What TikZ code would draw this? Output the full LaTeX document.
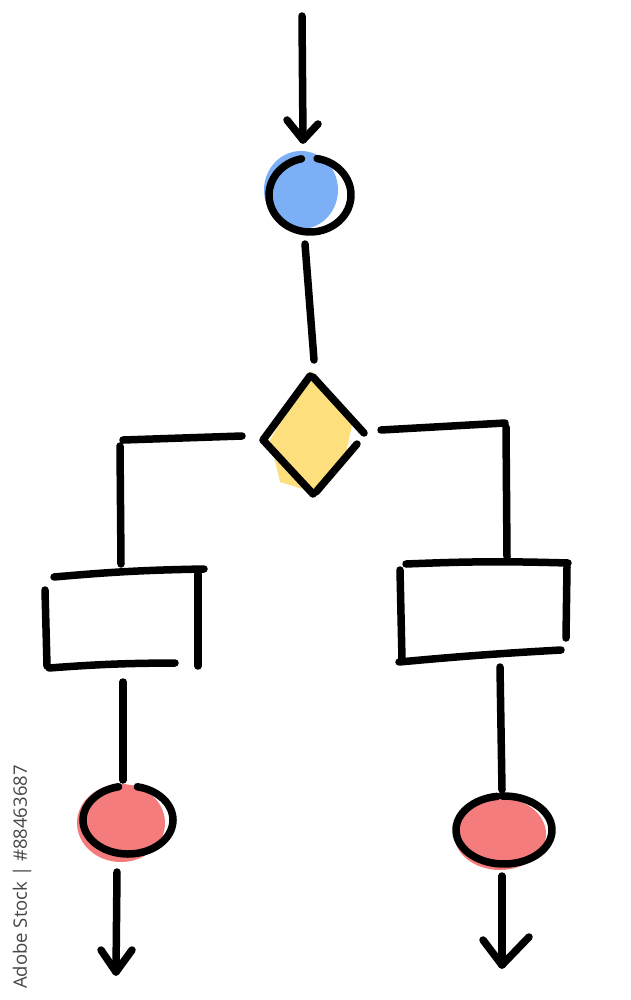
\documentclass[tikz,border=0pt]{standalone}
\usepackage{fontspec}
\usetikzlibrary{calc}
\newfontfamily\wmfont{Open Sans}
\definecolor{bluefill}{RGB}{125,175,246}
\definecolor{yellowfill}{RGB}{253,224,125}
\definecolor{redfill}{RGB}{244,124,124}
\definecolor{wmgray}{RGB}{70,70,70}
\tikzset{
  ink/.style={line width=7.5pt, line cap=round, line join=round, draw=black},
}
\begin{document}
\begin{tikzpicture}[x=1pt,y=-1pt]
\useasboundingbox (0,0) rectangle (631,1000);
\fill[white] (0,0) rectangle (631,1000);

% ---------- coordinates ----------
\coordinate (inStart) at (302,16);
\coordinate (inEnd)   at (303,140);
\coordinate (blueC)   at (310,195);
\coordinate (blueBot) at (305,244);
\coordinate (diaTop)  at (314,360);

\coordinate (dT) at (310,376);
\coordinate (dL) at (263,440);
\coordinate (dB) at (313,494);
\coordinate (dR) at (364,433);

\coordinate (lH1) at (242,436);
\coordinate (lH2) at (123,440);
\coordinate (lV2) at (121,564);

\coordinate (rH1) at (381,430);
\coordinate (rH2) at (505,423);
\coordinate (rV2) at (507,557);

\coordinate (lBoxOut) at (123,682);
\coordinate (lRedIn)  at (123,780);
\coordinate (lRedC)   at (128,820);
\coordinate (lArrS)   at (117,872);
\coordinate (lArrE)   at (116,972);

\coordinate (rBoxOut) at (500,667);
\coordinate (rRedIn)  at (502,790);
\coordinate (rRedC)   at (504,830);
\coordinate (rArrS)   at (502,876);
\coordinate (rArrE)   at (502,965);

% ---------- colour fills ----------
\fill[bluefill] (301,190) ellipse[x radius=37, y radius=39];
\fill[yellowfill] (312,371) -- (352,425) -- (345,458) -- (313,492) -- (280,482) -- (270,440) -- cycle;
\fill[redfill] (121,823) ellipse[x radius=44, y radius=39];
\fill[redfill] (500,834) ellipse[x radius=46, y radius=36];

% ---------- top input arrow ----------
\draw[ink] (inStart) -- (inEnd);
\draw[ink] (287,120) -- (inEnd) -- (318,124);

% ---------- blue start circle ----------
\draw[ink] (blueC) ++(280:41 and 37) arc[start angle=280, end angle=618, x radius=41, y radius=37];
\draw[ink] (blueBot) -- (diaTop);

% ---------- diamond ----------
\draw[ink] (dT) -- (dL) -- (dB);
\draw[ink] ($(dT)+(3,1)$) -- (dR);
\draw[ink] (357,444) -- ($(dB)+(3,-2)$);

% ---------- left branch ----------
\draw[ink] (lH1) -- (lH2);
\draw[ink] ($(lH2)+(-3,6)$) -- (lV2);

\draw[ink] (54,577) to[bend left=2] (204,569);
\draw[ink] (45,590) -- (47,666);
\draw[ink] (198,574) -- (198,666);
\draw[ink] (49,668) to[bend left=2] (175,663);

\draw[ink] (lBoxOut) -- (lRedIn);
\draw[ink] (lRedC) ++(282:45 and 34) arc[start angle=282, end angle=618, x radius=45, y radius=34];
\draw[ink] (lArrS) -- (lArrE);
\draw[ink] (101,950) -- (lArrE) -- (132,950);

% ---------- right branch ----------
\draw[ink] (rH1) -- (rH2);
\draw[ink] ($(rH2)+(1,4)$) -- (rV2);

\draw[ink] (406,564) to[bend left=2] (568,563);
\draw[ink] (400,570) -- (402,660);
\draw[ink] (567,567) -- (566,638);
\draw[ink] (399,662) to[bend left=1] (561,650);

\draw[ink] (rBoxOut) -- (rRedIn);
\draw[ink] (rRedC) ++(268:48 and 34) arc[start angle=268, end angle=622, x radius=48, y radius=34];
\draw[ink] (rArrS) -- (rArrE);
\draw[ink] (483,940) -- (rArrE) -- (529,937);

% ---------- watermark text ----------
\node[rotate=90, text=wmgray, font=\wmfont\fontsize{18.5}{18.5}\selectfont, inner sep=0pt] (wm) at (22,877) {Adobe Stock | \#88463687};
\end{tikzpicture}
\end{document}
